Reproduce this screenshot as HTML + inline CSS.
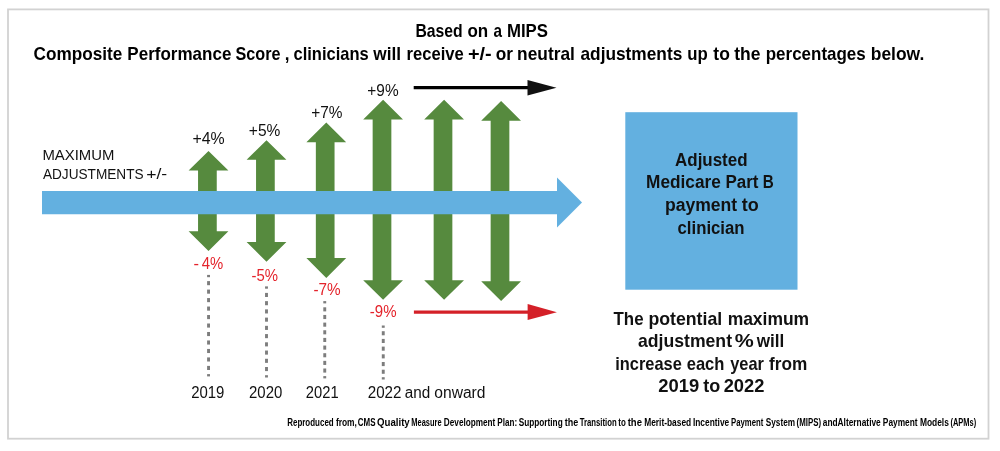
<!DOCTYPE html>
<html><head><meta charset="utf-8"><title>MIPS adjustments</title>
<style>html,body{margin:0;padding:0;background:#fff;width:1000px;height:451px;overflow:hidden}
svg{display:block;will-change:transform;font-family:"Liberation Sans", sans-serif}</style></head>
<body><svg width="1000" height="451" viewBox="0 0 1000 451">
<rect width="1000" height="451" fill="#fff"/>
<rect x="8" y="9.4" width="980.5" height="429.3" fill="none" stroke="#D2D2D2" stroke-width="1.8"/>
<polygon fill="#568A3E" points="208.50,151.1 228.40,170.6 216.75,170.6 216.75,231.3 228.40,231.3 208.50,251.1 188.60,231.3 198.05,231.3 198.05,170.6 188.60,170.6"/>
<polygon fill="#568A3E" points="266.50,140.3 286.40,159.8 274.75,159.8 274.75,242 286.40,242 266.50,261.8 246.60,242 256.05,242 256.05,159.8 246.60,159.8"/>
<polygon fill="#568A3E" points="326.30,122.6 346.20,142.3 334.55,142.3 334.55,258 346.20,258 326.30,278 306.40,258 315.85,258 315.85,142.3 306.40,142.3"/>
<polygon fill="#568A3E" points="383.10,99.8 403.00,119.5 391.35,119.5 391.35,280.2 403.00,280.2 383.10,299.7 363.20,280.2 372.65,280.2 372.65,119.5 363.20,119.5"/>
<polygon fill="#568A3E" points="444.10,99.7 464.00,119.5 452.35,119.5 452.35,280.2 464.00,280.2 444.10,299.7 424.20,280.2 433.65,280.2 433.65,119.5 424.20,119.5"/>
<polygon fill="#568A3E" points="501.10,101 521.00,120.8 509.35,120.8 509.35,281.2 521.00,281.2 501.10,301 481.20,281.2 490.65,281.2 490.65,120.8 481.20,120.8"/>
<polygon fill="#63B0E0" points="42,191 557,191 557,177.5 582,202.5 557,227.5 557,214.2 42,214.2"/>
<line x1="413.7" y1="87.7" x2="530" y2="87.7" stroke="#000" stroke-width="3.2"/>
<polygon fill="#111" points="527.5,80.1 556.5,87.7 527.5,95.4"/>
<line x1="413.9" y1="312.1" x2="530" y2="312.1" stroke="#D42028" stroke-width="3.2"/>
<polygon fill="#D42028" points="527.6,304 556.9,312.2 527.6,320"/>
<rect x="207.10" y="274.90" width="2.9" height="2.3" fill="#7D7D7D"/><rect x="207.10" y="281.10" width="2.9" height="4.1" fill="#7D7D7D"/><rect x="207.10" y="289.58" width="2.9" height="4.1" fill="#7D7D7D"/><rect x="207.10" y="298.06" width="2.9" height="4.1" fill="#7D7D7D"/><rect x="207.10" y="306.54" width="2.9" height="4.1" fill="#7D7D7D"/><rect x="207.10" y="315.02" width="2.9" height="4.1" fill="#7D7D7D"/><rect x="207.10" y="323.50" width="2.9" height="4.1" fill="#7D7D7D"/><rect x="207.10" y="331.98" width="2.9" height="4.1" fill="#7D7D7D"/><rect x="207.10" y="340.46" width="2.9" height="4.1" fill="#7D7D7D"/><rect x="207.10" y="348.94" width="2.9" height="4.1" fill="#7D7D7D"/><rect x="207.10" y="357.42" width="2.9" height="4.1" fill="#7D7D7D"/><rect x="207.10" y="365.90" width="2.9" height="4.1" fill="#7D7D7D"/><rect x="207.10" y="374.10" width="2.9" height="2.3" fill="#7D7D7D"/>
<rect x="265.05" y="286.40" width="2.9" height="2.3" fill="#7D7D7D"/><rect x="265.05" y="292.90" width="2.9" height="4.1" fill="#7D7D7D"/><rect x="265.05" y="301.13" width="2.9" height="4.1" fill="#7D7D7D"/><rect x="265.05" y="309.37" width="2.9" height="4.1" fill="#7D7D7D"/><rect x="265.05" y="317.60" width="2.9" height="4.1" fill="#7D7D7D"/><rect x="265.05" y="325.83" width="2.9" height="4.1" fill="#7D7D7D"/><rect x="265.05" y="334.07" width="2.9" height="4.1" fill="#7D7D7D"/><rect x="265.05" y="342.30" width="2.9" height="4.1" fill="#7D7D7D"/><rect x="265.05" y="350.53" width="2.9" height="4.1" fill="#7D7D7D"/><rect x="265.05" y="358.77" width="2.9" height="4.1" fill="#7D7D7D"/><rect x="265.05" y="367.00" width="2.9" height="4.1" fill="#7D7D7D"/><rect x="265.05" y="375.20" width="2.9" height="2.3" fill="#7D7D7D"/>
<rect x="323.30" y="301.10" width="2.9" height="2.3" fill="#7D7D7D"/><rect x="323.30" y="307.30" width="2.9" height="4.1" fill="#7D7D7D"/><rect x="323.30" y="314.95" width="2.9" height="4.1" fill="#7D7D7D"/><rect x="323.30" y="322.60" width="2.9" height="4.1" fill="#7D7D7D"/><rect x="323.30" y="330.25" width="2.9" height="4.1" fill="#7D7D7D"/><rect x="323.30" y="337.90" width="2.9" height="4.1" fill="#7D7D7D"/><rect x="323.30" y="345.55" width="2.9" height="4.1" fill="#7D7D7D"/><rect x="323.30" y="353.20" width="2.9" height="4.1" fill="#7D7D7D"/><rect x="323.30" y="360.85" width="2.9" height="4.1" fill="#7D7D7D"/><rect x="323.30" y="368.50" width="2.9" height="4.1" fill="#7D7D7D"/><rect x="323.30" y="376.10" width="2.9" height="2.3" fill="#7D7D7D"/>
<rect x="381.80" y="325.50" width="2.9" height="2.3" fill="#7D7D7D"/><rect x="381.80" y="331.20" width="2.9" height="4.1" fill="#7D7D7D"/><rect x="381.80" y="338.90" width="2.9" height="4.1" fill="#7D7D7D"/><rect x="381.80" y="346.60" width="2.9" height="4.1" fill="#7D7D7D"/><rect x="381.80" y="354.30" width="2.9" height="4.1" fill="#7D7D7D"/><rect x="381.80" y="362.00" width="2.9" height="4.1" fill="#7D7D7D"/><rect x="381.80" y="369.70" width="2.9" height="4.1" fill="#7D7D7D"/><rect x="381.80" y="377.20" width="2.9" height="2.3" fill="#7D7D7D"/>
<rect x="625.3" y="112.2" width="172.2" height="177.5" fill="#63B0E0"/>
<text x="415.45" y="37" font-size="18.4" font-weight="bold" fill="#000" textLength="47.25" lengthAdjust="spacingAndGlyphs">Based</text>
<text x="467.45" y="37" font-size="18.4" font-weight="bold" fill="#000" textLength="20.75" lengthAdjust="spacingAndGlyphs">on</text>
<text x="493.50" y="37" font-size="18.4" font-weight="bold" fill="#000" textLength="8.50" lengthAdjust="spacingAndGlyphs">a</text>
<text x="506.95" y="37" font-size="18.4" font-weight="bold" fill="#000" textLength="41.00" lengthAdjust="spacingAndGlyphs">MIPS</text>
<text x="33.50" y="60" font-size="18.4" font-weight="bold" fill="#000" textLength="88.75" lengthAdjust="spacingAndGlyphs">Composite</text>
<text x="127.35" y="60" font-size="18.4" font-weight="bold" fill="#000" textLength="104.00" lengthAdjust="spacingAndGlyphs">Performance</text>
<text x="235.50" y="60" font-size="18.4" font-weight="bold" fill="#000" textLength="45.00" lengthAdjust="spacingAndGlyphs">Score</text>
<text x="284.85" y="60" font-size="18.4" font-weight="bold" fill="#000" textLength="4.75" lengthAdjust="spacingAndGlyphs">,</text>
<text x="293.50" y="60" font-size="18.4" font-weight="bold" fill="#000" textLength="75.25" lengthAdjust="spacingAndGlyphs">clinicians</text>
<text x="373.35" y="60" font-size="18.4" font-weight="bold" fill="#000" textLength="27.75" lengthAdjust="spacingAndGlyphs">will</text>
<text x="406.50" y="60" font-size="18.4" font-weight="bold" fill="#000" textLength="57.25" lengthAdjust="spacingAndGlyphs">receive</text>
<text x="468.00" y="60" font-size="18.4" font-weight="bold" fill="#000" textLength="23.75" lengthAdjust="spacingAndGlyphs">+/-</text>
<text x="495.75" y="60" font-size="18.4" font-weight="bold" fill="#000" textLength="17.25" lengthAdjust="spacingAndGlyphs">or</text>
<text x="517.10" y="60" font-size="18.4" font-weight="bold" fill="#000" textLength="57.75" lengthAdjust="spacingAndGlyphs">neutral</text>
<text x="580.50" y="60" font-size="18.4" font-weight="bold" fill="#000" textLength="101.75" lengthAdjust="spacingAndGlyphs">adjustments</text>
<text x="687.35" y="60" font-size="18.4" font-weight="bold" fill="#000" textLength="20.50" lengthAdjust="spacingAndGlyphs">up</text>
<text x="713.35" y="60" font-size="18.4" font-weight="bold" fill="#000" textLength="16.50" lengthAdjust="spacingAndGlyphs">to</text>
<text x="734.25" y="60" font-size="18.4" font-weight="bold" fill="#000" textLength="26.25" lengthAdjust="spacingAndGlyphs">the</text>
<text x="765.75" y="60" font-size="18.4" font-weight="bold" fill="#000" textLength="100.00" lengthAdjust="spacingAndGlyphs">percentages</text>
<text x="870.75" y="60" font-size="18.4" font-weight="bold" fill="#000" textLength="53.50" lengthAdjust="spacingAndGlyphs">below.</text>
<text x="42.45" y="159.6" font-size="14.6" font-weight="normal" fill="#111" textLength="72.00" lengthAdjust="spacingAndGlyphs">MAXIMUM</text>
<text x="42.90" y="178.9" font-size="14.6" font-weight="normal" fill="#111" textLength="100.75" lengthAdjust="spacingAndGlyphs">ADJUSTMENTS</text>
<text x="146.15" y="178.9" font-size="14.6" font-weight="normal" fill="#111" textLength="21.00" lengthAdjust="spacingAndGlyphs">+/-</text>
<text x="192.45" y="144.3" font-size="15.6" font-weight="normal" fill="#111" textLength="32.25" lengthAdjust="spacingAndGlyphs">+4%</text>
<text x="248.85" y="135.9" font-size="15.8" font-weight="normal" fill="#111" textLength="31.50" lengthAdjust="spacingAndGlyphs">+5%</text>
<text x="311.25" y="118.1" font-size="15.6" font-weight="normal" fill="#111" textLength="31.25" lengthAdjust="spacingAndGlyphs">+7%</text>
<text x="367.35" y="95.8" font-size="15.8" font-weight="normal" fill="#111" textLength="31.25" lengthAdjust="spacingAndGlyphs">+9%</text>
<text x="193.40" y="268.9" font-size="15.7" font-weight="normal" fill="#E4232B" textLength="5.50" lengthAdjust="spacingAndGlyphs">-</text>
<text x="201.85" y="268.9" font-size="15.7" font-weight="normal" fill="#E4232B" textLength="21.50" lengthAdjust="spacingAndGlyphs">4%</text>
<text x="251.50" y="280.9" font-size="15.9" font-weight="normal" fill="#E4232B" textLength="26.50" lengthAdjust="spacingAndGlyphs">-5%</text>
<text x="313.40" y="294.9" font-size="15.9" font-weight="normal" fill="#E4232B" textLength="27.25" lengthAdjust="spacingAndGlyphs">-7%</text>
<text x="369.85" y="316.8" font-size="16.2" font-weight="normal" fill="#E4232B" textLength="26.75" lengthAdjust="spacingAndGlyphs">-9%</text>
<text x="191.20" y="398.0" font-size="15.8" font-weight="normal" fill="#111" textLength="33.25" lengthAdjust="spacingAndGlyphs">2019</text>
<text x="249.05" y="398.0" font-size="15.8" font-weight="normal" fill="#111" textLength="33.25" lengthAdjust="spacingAndGlyphs">2020</text>
<text x="305.85" y="398.0" font-size="15.8" font-weight="normal" fill="#111" textLength="32.75" lengthAdjust="spacingAndGlyphs">2021</text>
<text x="367.75" y="398.2" font-size="15.8" font-weight="normal" fill="#111" textLength="33.75" lengthAdjust="spacingAndGlyphs">2022</text>
<text x="404.70" y="398.2" font-size="15.8" font-weight="normal" fill="#111" textLength="25.50" lengthAdjust="spacingAndGlyphs">and</text>
<text x="434.25" y="398.2" font-size="15.8" font-weight="normal" fill="#111" textLength="51.25" lengthAdjust="spacingAndGlyphs">onward</text>
<text x="675.05" y="165.5" font-size="17.5" font-weight="bold" fill="#111" textLength="72.50" lengthAdjust="spacingAndGlyphs">Adjusted</text>
<text x="646.05" y="187.8" font-size="17.5" font-weight="bold" fill="#111" textLength="74.75" lengthAdjust="spacingAndGlyphs">Medicare</text>
<text x="725.45" y="187.8" font-size="17.5" font-weight="bold" fill="#111" textLength="33.00" lengthAdjust="spacingAndGlyphs">Part</text>
<text x="762.75" y="187.8" font-size="17.5" font-weight="bold" fill="#111" textLength="11.00" lengthAdjust="spacingAndGlyphs">B</text>
<text x="664.95" y="210.5" font-size="17.5" font-weight="bold" fill="#111" textLength="72.25" lengthAdjust="spacingAndGlyphs">payment</text>
<text x="741.75" y="210.5" font-size="17.5" font-weight="bold" fill="#111" textLength="17.00" lengthAdjust="spacingAndGlyphs">to</text>
<text x="677.55" y="233.7" font-size="17.5" font-weight="bold" fill="#111" textLength="67.00" lengthAdjust="spacingAndGlyphs">clinician</text>
<text x="613.55" y="325" font-size="18.2" font-weight="bold" fill="#111" textLength="30.00" lengthAdjust="spacingAndGlyphs">The</text>
<text x="648.40" y="325" font-size="18.2" font-weight="bold" fill="#111" textLength="73.75" lengthAdjust="spacingAndGlyphs">potential</text>
<text x="727.65" y="325" font-size="18.2" font-weight="bold" fill="#111" textLength="81.50" lengthAdjust="spacingAndGlyphs">maximum</text>
<text x="638.00" y="347.1" font-size="18.2" font-weight="bold" fill="#111" textLength="94.00" lengthAdjust="spacingAndGlyphs">adjustment</text>
<text x="734.80" y="347.1" font-size="18.2" font-weight="bold" fill="#111" textLength="19.00" lengthAdjust="spacingAndGlyphs">%</text>
<text x="756.70" y="347.1" font-size="18.2" font-weight="bold" fill="#111" textLength="27.50" lengthAdjust="spacingAndGlyphs">will</text>
<text x="615.30" y="369.9" font-size="18.2" font-weight="bold" fill="#111" textLength="66.50" lengthAdjust="spacingAndGlyphs">increase</text>
<text x="686.70" y="369.9" font-size="18.2" font-weight="bold" fill="#111" textLength="37.75" lengthAdjust="spacingAndGlyphs">each</text>
<text x="730.25" y="369.9" font-size="18.2" font-weight="bold" fill="#111" textLength="33.75" lengthAdjust="spacingAndGlyphs">year</text>
<text x="769.05" y="369.9" font-size="18.2" font-weight="bold" fill="#111" textLength="38.25" lengthAdjust="spacingAndGlyphs">from</text>
<text x="658.25" y="392.4" font-size="18.2" font-weight="bold" fill="#111" textLength="41.00" lengthAdjust="spacingAndGlyphs">2019</text>
<text x="703.15" y="392.4" font-size="18.2" font-weight="bold" fill="#111" textLength="17.00" lengthAdjust="spacingAndGlyphs">to</text>
<text x="723.65" y="392.4" font-size="18.2" font-weight="bold" fill="#111" textLength="40.75" lengthAdjust="spacingAndGlyphs">2022</text>
<text x="287.20" y="425.7" font-size="10.0" font-weight="bold" fill="#000" textLength="46.50" lengthAdjust="spacingAndGlyphs">Reproduced</text>
<text x="335.90" y="425.7" font-size="10.0" font-weight="bold" fill="#000" textLength="21.00" lengthAdjust="spacingAndGlyphs">from,</text>
<text x="357.80" y="425.7" font-size="10.0" font-weight="bold" fill="#000" textLength="17.75" lengthAdjust="spacingAndGlyphs">CMS</text>
<text x="377.00" y="425.7" font-size="10.0" font-weight="bold" fill="#000" textLength="32.75" lengthAdjust="spacingAndGlyphs">Quality</text>
<text x="411.35" y="425.7" font-size="10.0" font-weight="bold" fill="#000" textLength="30.25" lengthAdjust="spacingAndGlyphs">Measure</text>
<text x="443.85" y="425.7" font-size="10.0" font-weight="bold" fill="#000" textLength="51.50" lengthAdjust="spacingAndGlyphs">Development</text>
<text x="497.35" y="425.7" font-size="10.0" font-weight="bold" fill="#000" textLength="19.75" lengthAdjust="spacingAndGlyphs">Plan:</text>
<text x="518.70" y="425.7" font-size="10.0" font-weight="bold" fill="#000" textLength="44.00" lengthAdjust="spacingAndGlyphs">Supporting</text>
<text x="564.70" y="425.7" font-size="10.0" font-weight="bold" fill="#000" textLength="13.50" lengthAdjust="spacingAndGlyphs">the</text>
<text x="579.70" y="425.7" font-size="10.0" font-weight="bold" fill="#000" textLength="37.00" lengthAdjust="spacingAndGlyphs">Transition</text>
<text x="618.35" y="425.7" font-size="10.0" font-weight="bold" fill="#000" textLength="7.50" lengthAdjust="spacingAndGlyphs">to</text>
<text x="627.70" y="425.7" font-size="10.0" font-weight="bold" fill="#000" textLength="14.25" lengthAdjust="spacingAndGlyphs">the</text>
<text x="644.20" y="425.7" font-size="10.0" font-weight="bold" fill="#000" textLength="47.00" lengthAdjust="spacingAndGlyphs">Merit-based</text>
<text x="692.95" y="425.7" font-size="10.0" font-weight="bold" fill="#000" textLength="36.25" lengthAdjust="spacingAndGlyphs">Incentive</text>
<text x="731.00" y="425.7" font-size="10.0" font-weight="bold" fill="#000" textLength="32.25" lengthAdjust="spacingAndGlyphs">Payment</text>
<text x="765.80" y="425.7" font-size="10.0" font-weight="bold" fill="#000" textLength="29.25" lengthAdjust="spacingAndGlyphs">System</text>
<text x="796.60" y="425.7" font-size="10.0" font-weight="bold" fill="#000" textLength="24.50" lengthAdjust="spacingAndGlyphs">(MIPS)</text>
<text x="822.75" y="425.7" font-size="10.0" font-weight="bold" fill="#000" textLength="58.00" lengthAdjust="spacingAndGlyphs">andAlternative</text>
<text x="882.85" y="425.7" font-size="10.0" font-weight="bold" fill="#000" textLength="34.75" lengthAdjust="spacingAndGlyphs">Payment</text>
<text x="919.90" y="425.7" font-size="10.0" font-weight="bold" fill="#000" textLength="29.00" lengthAdjust="spacingAndGlyphs">Models</text>
<text x="950.45" y="425.7" font-size="10.0" font-weight="bold" fill="#000" textLength="25.75" lengthAdjust="spacingAndGlyphs">(APMs)</text>
</svg></body></html>
